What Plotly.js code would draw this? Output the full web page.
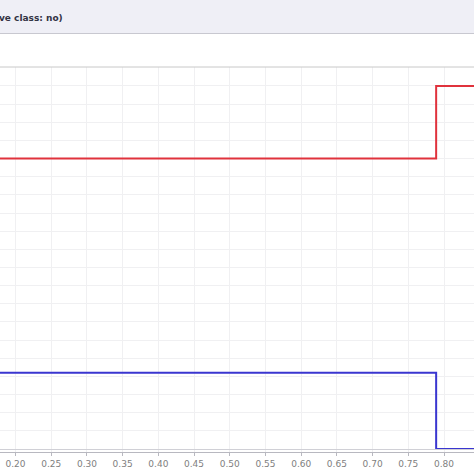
<!DOCTYPE html>
<html>
<head>
<meta charset="utf-8">
<script src="https://cdn.plot.ly/plotly-3.0.1.min.js"></script>
<style>
  html, body { margin: 0; padding: 0; background: #fff; }
  #chart { width: 474px; height: 474px; }
</style>
</head>
<body>
<div id="chart"></div>
<script>
// threshold steps
const thresholds = [0.0, 0.789, 1.0]
const upperCurve = [0.80, 1.0, 1.0]
const lowerCurve = [0.21, 0.0, 0.0]
const xTicks = [0.20, 0.25, 0.30, 0.35, 0.40, 0.45, 0.50, 0.55, 0.60, 0.65, 0.70, 0.75, 0.80, 0.85]
const chartTitle = 'Threshold Curve (Positive class: no)'

const W = 474, H = 474, TOP = 67, BOTTOM = 22
const plotH = H - TOP - BOTTOM
// pixel row -> paper y
const py = p => 1 + (TOP - p) / plotH

const traces = [
  {
    x: thresholds,
    y: upperCurve,
    mode: 'lines',
    type: 'scatter',
    line: { color: '#e0323c', width: 2, shape: 'hv' },
    hoverinfo: 'none'
  },
  {
    x: thresholds,
    y: lowerCurve,
    mode: 'lines',
    type: 'scatter',
    line: { color: '#3a36d0', width: 2, shape: 'hv' },
    hoverinfo: 'none'
  }
]

const layout = {
  width: W,
  height: H,
  margin: { l: 0, r: 0, t: TOP, b: BOTTOM, pad: 0 },
  paper_bgcolor: '#ffffff',
  plot_bgcolor: '#ffffff',
  showlegend: false,
  xaxis: {
    range: [0.1783, 0.842],
    tickvals: xTicks,
    ticktext: xTicks.map(v => v.toFixed(2)),
    showgrid: true,
    gridcolor: '#f0f0f2',
    zeroline: false,
    showline: true,
    linecolor: '#b8b8c0',
    linewidth: 1,
    ticks: 'outside',
    ticklen: 3,
    tickcolor: '#b8b8c0',
    tickfont: { family: 'DejaVu Sans', size: 9, color: '#808080' }
  },
  yaxis: {
    range: [-0.008, 1.052],
    dtick: 0.05,
    showticklabels: false,
    showgrid: true,
    gridcolor: '#f0f0f2',
    zeroline: false,
    showline: false
  },
  shapes: [
    // header band
    { type: 'rect', xref: 'paper', yref: 'paper', x0: -0.1, x1: 1.1, y0: py(33), y1: py(-5),
      fillcolor: '#efeff6', line: { width: 0 }, layer: 'below' },
    { type: 'line', xref: 'paper', yref: 'paper', x0: -0.1, x1: 1.1, y0: py(33.5), y1: py(33.5),
      line: { color: '#c8c8d0', width: 1 } },
    // plot frame top and second bottom rule
    { type: 'line', xref: 'paper', yref: 'paper', x0: -0.1, x1: 1.1, y0: 1, y1: 1,
      line: { color: '#c8c8c8', width: 1 } },
    { type: 'line', xref: 'paper', yref: 'paper', x0: -0.1, x1: 1.1, y0: py(449.5), y1: py(449.5),
      line: { color: '#d0d0d6', width: 1 } }
  ],
  annotations: [
    {
      text: '<b>' + chartTitle + '</b>',
      xref: 'paper', yref: 'paper',
      x: 65 / W, y: py(18),
      xanchor: 'right', yanchor: 'middle',
      showarrow: false,
      font: { family: 'DejaVu Sans', size: 9, color: '#333344' }
    }
  ]
}

Plotly.newPlot('chart', traces, layout, { staticPlot: true, displayModeBar: false })
</script>
</body>
</html>
